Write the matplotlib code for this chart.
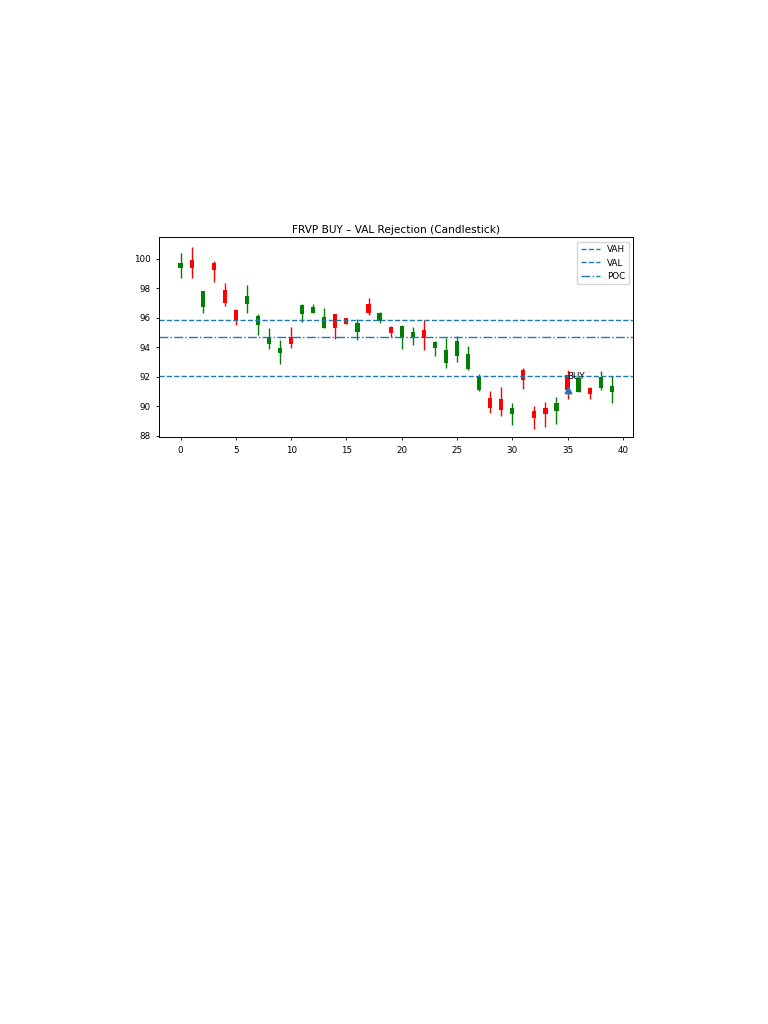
import numpy as np
import matplotlib
matplotlib.use('Agg')
import matplotlib.pyplot as plt

# OHLC values
opens = [99.39, 99.90, 96.70, 99.70, 97.85, 96.50, 96.95, 95.50, 94.25, 93.60,
         94.70, 96.25, 96.35, 95.30, 96.25, 95.95, 95.05, 96.90, 95.80, 95.40,
         94.70, 94.60, 95.20, 93.95, 92.95, 93.40, 92.50, 91.10, 90.55, 90.50,
         89.50, 92.45, 89.65, 89.90, 89.65, 92.10, 91.00, 91.25, 91.25, 90.95]
highs = [100.41, 100.79, 97.81, 99.84, 98.37, 96.56, 98.19, 96.27, 95.28, 94.51,
         95.39, 96.90, 96.95, 96.63, 96.27, 96.00, 95.89, 97.36, 96.36, 95.44,
         95.50, 95.39, 95.82, 94.42, 94.60, 94.73, 94.08, 92.16, 91.07, 91.34,
         90.21, 92.59, 90.03, 90.26, 90.60, 92.47, 92.02, 91.34, 92.41, 92.07]
lows = [98.67, 98.67, 96.29, 98.42, 96.77, 95.48, 96.32, 94.80, 93.90, 92.88,
        93.92, 95.71, 96.34, 95.28, 94.53, 95.59, 94.46, 96.18, 95.64, 94.71,
        93.85, 94.15, 93.79, 93.40, 92.61, 92.97, 92.43, 91.07, 89.58, 89.31,
        88.75, 91.19, 88.47, 88.63, 88.81, 90.49, 91.00, 90.49, 91.12, 90.21]
closes = [99.73, 99.35, 97.80, 99.25, 97.00, 95.85, 97.45, 96.15, 94.70, 93.95,
          94.25, 96.85, 96.75, 96.05, 95.30, 95.60, 95.65, 96.35, 96.30, 95.00,
          95.45, 95.05, 94.60, 94.35, 93.80, 94.40, 93.55, 92.05, 89.90, 89.75,
          89.90, 91.80, 89.20, 89.45, 90.20, 91.10, 91.95, 90.80, 92.00, 91.40]

vah = 95.82
val = 92.05
poc = 94.71

buy_idx = 35
buy_price = 91.12

x = np.arange(len(opens))
o = np.array(opens)
c = np.array(closes)
colors = ['green' if cl >= op else 'red' for op, cl in zip(opens, closes)]

fig = plt.figure(figsize=(7.68, 10.24), dpi=100)
ax = fig.add_axes([159/768, 1 - 437.3/1024, (633.3 - 159)/768, (437.3 - 237.3)/1024])

# wicks
ax.vlines(x, lows, highs, colors=colors, linewidth=1.0)
# bodies
ax.bar(x, np.abs(c - o), bottom=np.minimum(o, c), width=0.38, color=colors)

ax.axhline(vah, linestyle='--', color='C0', linewidth=1.0, label='VAH')
ax.axhline(val, linestyle='--', color='C0', linewidth=1.0, label='VAL')
ax.axhline(poc, linestyle='-.', color='C0', linewidth=1.0, label='POC')

ax.scatter([buy_idx], [buy_price], marker='^', s=22, color='C0', zorder=3)
ax.text(buy_idx, 91.85, 'BUY', fontsize=6.3)

ax.set_xlim(-1.95, 40.95)
ax.set_ylim(87.9, 101.45)
ax.set_xticks(range(0, 41, 5))
ax.set_yticks(range(88, 101, 2))
ax.tick_params(labelsize=6.3, length=2.5, width=0.6)
for s in ax.spines.values():
    s.set_linewidth(0.7)

ax.set_title('FRVP BUY – VAL Rejection (Candlestick)', fontsize=7.6, pad=3)
ax.legend(loc='upper right', fontsize=6.3, framealpha=0.8, handlelength=2.2)

fig.savefig('out.png', dpi=100)
